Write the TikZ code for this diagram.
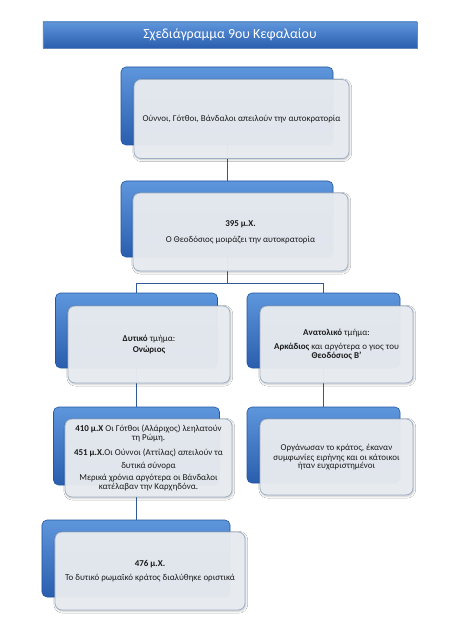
\documentclass[tikz,border=0pt]{standalone}
\usepackage{fontspec}
\setmainfont{Carlito}
\usetikzlibrary{shadows.blur}
\definecolor{bluetop}{HTML}{5E96DC}
\definecolor{bluebot}{HTML}{2A5EAE}
\definecolor{blueedge}{HTML}{2456A0}
\definecolor{frontfill}{HTML}{E9ECF1}
\definecolor{frontedge}{HTML}{9EB0C6}
\definecolor{linecol}{HTML}{2F5A96}
\definecolor{txt}{HTML}{1C1C1C}
\tikzset{
  backbox/.style={rectangle, rounded corners=5bp, top color=bluetop, bottom color=bluebot, draw=blueedge, line width=0.6bp, inner sep=0pt},
  frontbox/.style={rectangle, rounded corners=7bp, fill=frontfill, fill opacity=0.96, text opacity=1, draw=frontedge, line width=0.8bp, inner sep=2bp, align=center, font=\fontsize{9}{8.6}\selectfont, text=txt, blur shadow={shadow blur steps=5, shadow xshift=0.8bp, shadow yshift=-1.2bp, shadow opacity=25}},
  titlebar/.style={rectangle, top color=bluetop, bottom color=bluebot, draw=blueedge!70, line width=0.6bp, text=white, font=\fontsize{14}{16}\selectfont, inner sep=0pt},
  conn/.style={draw=linecol, line width=0.9bp}
}
\begin{document}
\begin{tikzpicture}[x=1bp,y=-1bp]
\useasboundingbox[fill=white] (0,0) rectangle (453,640);
% title
\node[titlebar, minimum width=374bp, minimum height=26bp] (t) at (230,35) {Σχεδιάγραμμα 9ου Κεφαλαίου};
% back boxes
\node[backbox, minimum width=212bp, minimum height=78bp] (b1) at (227,106) {};
\node[backbox, minimum width=212bp, minimum height=76bp] (b2) at (227,219) {};
\node[backbox, minimum width=162bp, minimum height=75bp] (b3) at (136.5,330.5) {};
\node[backbox, minimum width=153bp, minimum height=75bp] (b4) at (323.5,330.5) {};
\node[backbox, minimum width=166bp, minimum height=78bp] (b5) at (136.5,446) {};
\node[backbox, minimum width=153bp, minimum height=76bp] (b6) at (323.5,445) {};
\node[backbox, minimum width=188bp, minimum height=77bp] (b7) at (136,558.5) {};
% connectors
\coordinate (j) at (227,283);
\draw[conn] (b1.south) -- (b2.north);
\draw[conn] (b2.south) -- (j);
\draw[conn] (j) -| (b3.north);
\draw[conn] (j) -| (b4.north);
\draw[conn] (b3.south) -- (b5.north);
\draw[conn] (b4.south) -- (b6.north);
\draw[conn] (b5.south) -- (b5.south |- b7.north);
% front boxes
\node[frontbox, minimum width=215bp, minimum height=79bp] (f1) at (241.5,119)
  {Ούννοι, Γότθοι, Βάνδαλοι απειλούν την αυτοκρατορία};
\node[frontbox, minimum width=215bp, minimum height=78bp] (f2) at (240.5,232)
  {\textbf{395 μ.Χ.}\\[7.5bp] Ο Θεοδόσιος μοιράζει την αυτοκρατορία};
\node[frontbox, minimum width=162bp, minimum height=77bp] (f3) at (149,344.5)
  {\textbf{Δυτικό} τμήμα:\\[1.5bp] \textbf{Ονώριος}};
\node[frontbox, minimum width=153bp, minimum height=77bp] (f4) at (336.5,344.5)
  {\textbf{Ανατολικό} τμήμα:\\[5bp] \textbf{Αρκάδιος} και αργότερα ο γιος του\\ \textbf{Θεοδόσιος Β'}};
\node[frontbox, minimum width=167bp, minimum height=78bp] (f5) at (148.5,458)
  {\textbf{410 μ.Χ} Οι Γότθοι (Αλάριχος) λεηλατούν\\ τη Ρώμη.\\[6.5bp] \textbf{451 μ.Χ.}Οι Ούννοι (Αττίλας) απειλούν τα\\[4.5bp] δυτικά σύνορα\\[3.5bp] Μερικά χρόνια αργότερα οι Βάνδαλοι\\ κατέλαβαν την Καρχηδόνα.};
\node[frontbox, minimum width=153bp, minimum height=76bp] (f6) at (336.5,457)
  {Οργάνωσαν το κράτος, έκαναν\\[1.5bp] συμφωνίες ειρήνης και οι κάτοικοι\\ ήταν ευχαριστημένοι};
\node[frontbox, minimum width=190bp, minimum height=78bp] (f7) at (150,571)
  {\textbf{476 μ.Χ.}\\[5bp] Το δυτικό ρωμαϊκό κράτος διαλύθηκε οριστικά};
\end{tikzpicture}
\end{document}
